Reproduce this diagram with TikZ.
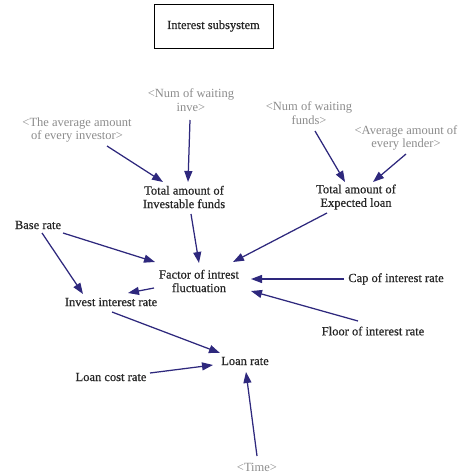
\documentclass[tikz,border=0pt]{standalone}
\usepackage{fontspec}
\setmainfont{Liberation Serif}
\newfontfamily\medfont[FakeBold=0.6]{Liberation Serif}
\usetikzlibrary{arrows.meta}
\definecolor{navy}{RGB}{46,40,125}
\definecolor{greytext}{RGB}{140,140,140}
\tikzset{
  lab/.style={font=\medfont\fontsize{12.5}{13.5}\selectfont, text=black!85, align=center, inner sep=0pt},
  glab/.style={font=\fontsize{12.5}{13.5}\selectfont, text=greytext, align=center, inner sep=0pt},
  arr/.style={draw=navy, line width=1.25pt, -{Triangle[length=11pt,width=8pt]}},
  titlebox/.style={draw=black, line width=1pt, minimum width=119pt, minimum height=44pt, font=\medfont\fontsize{12.5}{13.5}\selectfont, text=black!85, inner sep=0pt}
}
\begin{document}
\begin{tikzpicture}[x=1pt,y=-1pt]
\useasboundingbox (0,0) rectangle (474,474);
\node[titlebox] (title) at (213.5,26) {Interest subsystem};
\node[glab] (ninv) at (191,100) {<Num of waiting\\inve>};
\node[glab] (avginv) at (77,130) {<The average amount\\of every investor>};
\node[glab] (nfund) at (309,113) {<Num of waiting\\funds>};
\node[glab] (avglend) at (406,138) {<Average amount of\\every lender>};
\node[lab] (tinv) at (184,197) {Total amount of\\Investable funds};
\node[lab] (tloan) at (356,197) {Total amount of\\Expected loan};
\node[lab] (base) at (38,225) {Base rate};
\node[lab] (factor) at (199,281) {Factor of intrest\\fluctuation};
\node[lab] (cap) at (396,279) {Cap of interest rate};
\node[lab] (invest) at (111,302) {Invest interest rate};
\node[lab] (floor) at (373,331) {Floor of interest rate};
\node[lab] (loan) at (245,361) {Loan rate};
\node[lab] (lcost) at (111,377) {Loan cost rate};
\node[glab] (time) at (257,467) {<Time>};

\draw[arr] ([shift={(30,16)}]avginv.center) -- ([shift={(-21,-15)}]tinv.center);
\draw[arr] ([shift={(-1,20)}]ninv.center) -- ([shift={(4,-15)}]tinv.center);
\draw[arr] ([shift={(6,18)}]nfund.center) -- ([shift={(-11,-15)}]tloan.center);
\draw[arr] ([shift={(0,16)}]avglend.center) -- ([shift={(17,-15)}]tloan.center);
\draw[arr] ([shift={(7,17)}]tinv.center) -- ([shift={(0,-18)}]factor.center);
\draw[arr] ([shift={(-29,16)}]tloan.center) -- ([shift={(34,-19)}]factor.center);
\draw[arr] ([shift={(25,8)}]base.center) -- ([shift={(-44,-19)}]factor.center);
\draw[arr] ([shift={(4,8)}]base.center) -- ([shift={(-28,-8)}]invest.center);
\draw[arr] ([shift={(-45,7)}]factor.center) -- ([shift={(17,-9)}]invest.center);
\draw[arr] ([shift={(-52,0)}]cap.center) -- ([shift={(52,-2)}]factor.center);
\draw[arr] ([shift={(-15,-10)}]floor.center) -- ([shift={(52,10)}]factor.center);
\draw[arr] ([shift={(1,10)}]invest.center) -- ([shift={(-25,-8)}]loan.center);
\draw[arr] ([shift={(39,-4)}]lcost.center) -- ([shift={(-32,4)}]loan.center);
\draw[arr] ([shift={(0,-11)}]time.center) -- ([shift={(1,11)}]loan.center);
\end{tikzpicture}
\end{document}
